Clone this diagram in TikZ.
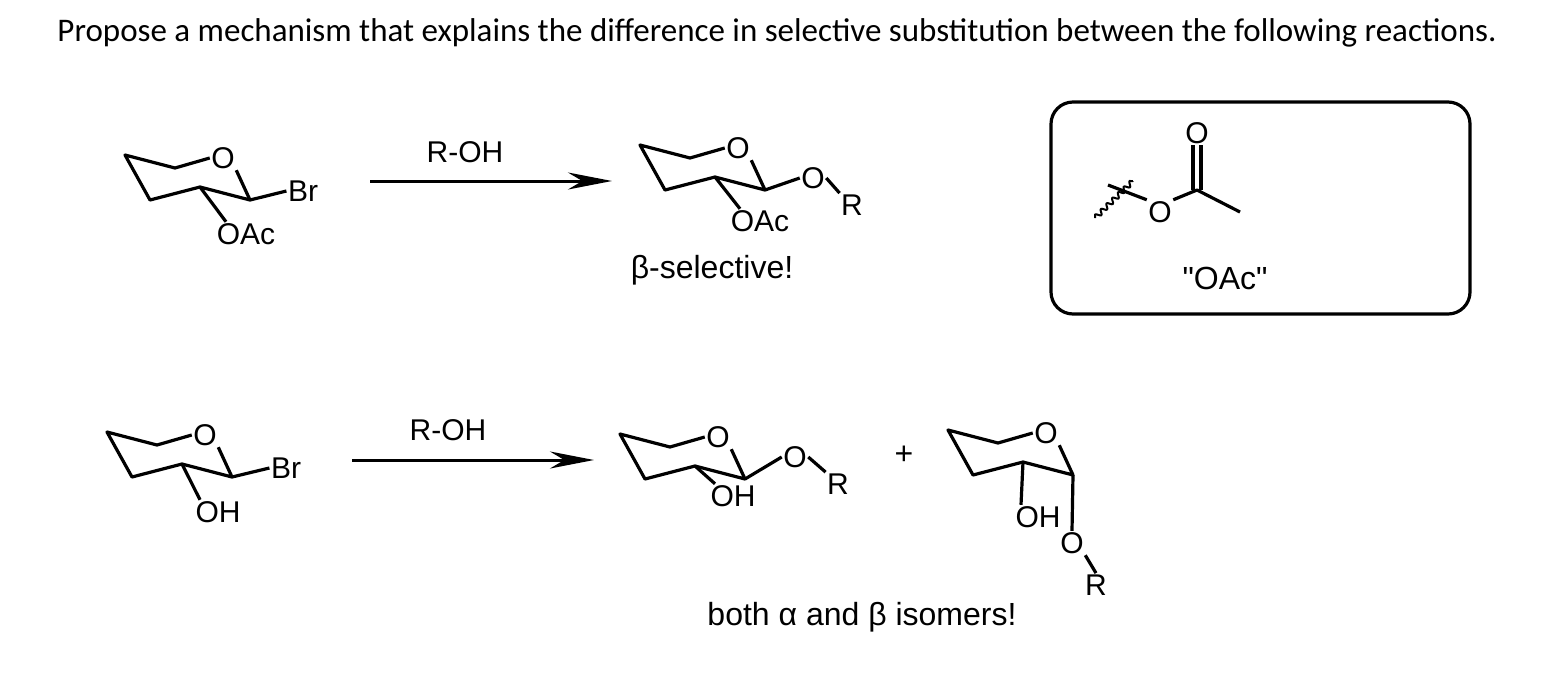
\documentclass[tikz,border=0pt]{standalone}
\usepackage{fontspec}
\setmainfont{Liberation Sans}
\newfontfamily\titlefont{Carlito}
\usetikzlibrary{decorations.pathmorphing,arrows.meta}
\begin{document}
\begin{tikzpicture}[x=1pt,y=-1pt,line width=3.2pt,line join=round,
  lab/.style={inner sep=0pt,font=\fontsize{30}{34}\selectfont},
  txt/.style={inner sep=0pt,font=\fontsize{32}{36}\selectfont},
  rxn/.style={-{Stealth[length=44pt,width=17pt]},line width=3pt}]
\useasboundingbox (0,0) rectangle (1555,681);
\node[inner sep=0pt,font=\titlefont\fontsize{33}{38}\selectfont] (title) at (777,33) {Propose a mechanism that explains the difference in selective substitution between the following reactions.};
\newcommand{\mychair}[2]{%
  \begin{scope}[shift={#1}]
  \node[lab] (#2O) at (23,-29) {O};
  \coordinate (#2c5) at (-75,-32);
  \coordinate (#2c4) at (-25,-19);
  \coordinate (#2c3) at (-50,13);
  \coordinate (#2c2) at (0,0);
  \coordinate (#2c1) at (50,13);
  \draw (#2O.west) -- (#2c4) -- (#2c5) -- (#2c3) -- (#2c2) -- (#2c1) -- (#2O.south east);
  \end{scope}}
% top left
\mychair{(200,187)}{a}
\node[lab] (aBr) at (303,191) {Br};
\draw (ac1) -- (aBr.west);
\node[lab] (aOAc) at (246,234) {OAc};
\draw (ac2) -- ([xshift=-20pt]aOAc.north);
% top product
\mychair{(715,177)}{b}
\node[lab] (bO2) at (813,178) {O};
\node[lab] (bR) at (852,205) {R};
\draw (bc1) -- (bO2.west);
\draw (bO2.east) -- (bR.north west);
\node[lab] (bOAc) at (760,221) {OAc};
\draw (bc2) -- ([xshift=-20pt]bOAc.north);
\node[txt] (beta) at (712,270) {β-selective!};
% top arrow
\coordinate (a1s) at (370,181); \coordinate (a1e) at (612,181);
\draw[rxn] (a1s) -- (a1e);
\node[lab] (roh1) at (465,152) {R-OH};
% box
\draw[rounded corners=22pt] (1051,102) rectangle (1470,314);
\node[lab] (xO) at (1160,212) {O};
\node[lab] (xOt) at (1197,133) {O};
\coordinate (xC) at (1197,190);
\coordinate (xMe) at (1240,212);
\coordinate (xs) at (1108,185);
\draw (xs) -- (xO.north west);
\draw (xO.north east) -- (xC) -- (xMe);
\draw ([xshift=-4pt]xC) -- ([xshift=-4pt]xOt.south);
\draw ([xshift=4pt]xC) -- ([xshift=4pt]xOt.south);
\coordinate (w1) at (1095,218); \coordinate (w2) at (1133,181);
\draw[line width=2pt,decorate,decoration={snake,amplitude=2.5pt,segment length=8pt}] (w1) -- (w2);
\node[txt] (oac) at (1225,278) {\textquotedbl OAc\textquotedbl};
% bottom left
\mychair{(182,464)}{c}
\node[lab] (cBr) at (286,468) {Br};
\draw (cc1) -- (cBr.west);
\node[lab] (cOH) at (218,512) {OH};
\draw (cc2) -- ([xshift=-18pt]cOH.north);
% bottom arrow
\coordinate (a2s) at (352,460); \coordinate (a2e) at (594,460);
\draw[rxn] (a2s) -- (a2e);
\node[lab] (roh2) at (448,430) {R-OH};
% bottom product 1
\mychair{(695,466)}{d}
\node[lab] (dO2) at (795,457) {O};
\node[lab] (dR) at (838,484) {R};
\draw (dc1) -- (dO2.west);
\draw (dO2.east) -- (dR.north west);
\node[lab] (dOH) at (733,496) {OH};
\draw (dc2) -- ([xshift=-18pt]dOH.north);
\node[txt] (plus) at (904,455) {+};
% bottom product 2
\mychair{(1023,462)}{e}
\node[lab] (eOH) at (1038,517) {OH};
\draw (ec2) -- ([xshift=-17pt]eOH.north);
\node[lab] (eO2) at (1072,543) {O};
\node[lab] (eR) at (1096,585) {R};
\draw (ec1) -- (eO2.north);
\draw (eO2.south east) -- (eR.north);
\node[txt] (both) at (862,617) {both α and β isomers!};
\end{tikzpicture}
\end{document}
